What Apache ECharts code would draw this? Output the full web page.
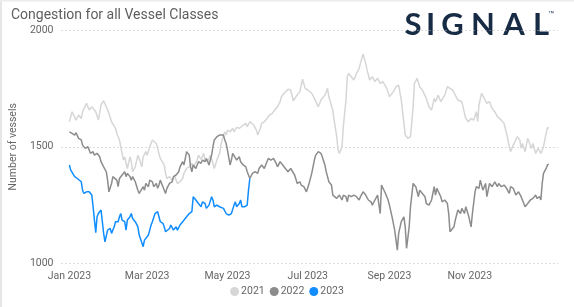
<!DOCTYPE html>
<html>
<head>
<meta charset="utf-8">
<script src="https://cdn.jsdelivr.net/npm/echarts@6/dist/echarts.min.js"></script>
<style>
html,body{margin:0;padding:0;background:#fff;}
#c{width:574px;height:307px;}
</style>
</head>
<body>
<div id="c"></div>
<script>
// Day-of-year (0 = Jan 1) for each reading, and number of vessels
const days2021 = [0,2,5,7,9,10,13,15,17,20,22,24,26,28,30,32,35,36,37,38,40,41,42,44,46,47,48,50,52,53,55,56,58,59,61,63,64,66,67,69,72,73,74,76,78,80,82,84,86,87,89,91,93,94,97,98,100,102,103,104,105,107,109,110,111,112,114,115,117,118,119,120,122,124,125,127,129,130,132,134,135,137,138,140,142,143,145,146,148,150,152,154,156,158,160,161,163,
166,168,170,172,175,177,179,181,184,186,189,191,194,196,197,200,201,203,204,205,207,208,210,211,212,214,216,218,220,221,223,225,226,228,230,232,234,236,238,241,243,246,248,250,252,254,255,257,259,261,262,264,266,268,271,273,275,277,278,280,282,285,287,289,291,293,295,298,300,301,303,305,307,309,310,311,313,315,317,319,321,323,325,326,328,330,332,334,335,337,339,340,342,343,344,346,348,349,351,352,354,356,358,360,361,362,363,364];
const vessels2021 = [1607,1650,1614,1636,1621,1650,1686,1657,1671,1650,1614,1679,1697,1671,1643,1607,1579,1557,1543,1529,1472,1443,1457,1407,1457,1436,1393,1414,1464,1450,1414,1457,1479,1464,1500,1529,1536,1514,1493,1450,1422,1386,1364,1372,1357,1372,1343,1350,1364,1386,1407,1414,1429,1414,1443,1464,1446,1472,1436,1450,1436,1464,1429,1407,1414,1443,1472,1507,1550,1564,1550,1571,1564,1579,1564,1583,1579,1571,1593,1600,1586,1607,1614,1593,1571,1550,1579,1600,1607,1621,1636,1643,1657,1671,1693,1714,1729,
1746,1743,1697,1714,1736,1789,1750,1743,1729,1707,1671,1700,1721,1750,1714,1657,1614,1543,1486,1471,1500,1586,1700,1800,1814,1800,1786,1814,1836,1857,1897,1857,1829,1786,1800,1779,1793,1771,1779,1750,1714,1736,1757,1764,1700,1600,1550,1536,1543,1671,1771,1793,1757,1743,1707,1671,1657,1707,1693,1721,1693,1721,1757,1750,1743,1721,1700,1693,1643,1621,1607,1621,1614,1650,1607,1679,1729,1707,1686,1693,1664,1650,1629,1636,1614,1600,1557,1500,1479,1507,1529,1543,1529,1493,1514,1479,1536,1521,1493,1514,1471,1493,1471,1500,1529,1557,1583,1579];

const days2022 = [0,2,4,5,7,9,10,12,14,15,16,18,19,21,23,24,26,28,29,30,32,33,34,36,37,38,40,42,43,44,46,47,48,50,52,53,54,56,57,58,60,61,63,64,66,67,68,69,71,73,74,76,78,79,81,83,84,86,87,88,89,91,92,93,94,96,97,98,100,101,103,104,106,108,109,110,112,114,115,117,118,119,120,122,123,124,125,127,129,130,132,134,135,137,138,139,141,143,144,146,148,149,151,153,155,157,158,160,162,
164,166,168,169,171,173,175,176,178,180,181,182,184,186,187,189,191,192,194,195,196,197,199,200,201,203,205,207,208,210,211,212,214,216,218,220,221,223,225,227,229,230,232,234,236,237,238,240,242,243,245,247,248,249,250,252,254,255,256,258,259,261,263,265,266,268,270,271,273,275,277,278,279,280,282,283,285,287,288,289,290,292,293,295,297,298,300,301,303,305,306,308,309,311,312,314,316,317,319,321,323,325,326,328,330,332,334,335,337,339,341,343,344,346,348,350,352,354,355,357,358,359,360,362,363,364];
const vessels2022 = [1564,1557,1550,1560,1536,1529,1507,1493,1500,1507,1472,1479,1464,1472,1457,1436,1414,1393,1357,1307,1343,1372,1379,1357,1329,1364,1379,1393,1372,1386,1372,1357,1372,1350,1314,1300,1307,1329,1314,1343,1329,1357,1350,1329,1343,1322,1336,1357,1329,1300,1322,1343,1350,1372,1379,1393,1414,1436,1422,1450,1479,1464,1414,1393,1422,1407,1422,1436,1429,1443,1436,1450,1422,1464,1500,1529,1543,1550,1543,1550,1529,1514,1486,1422,1443,1472,1464,1443,1457,1436,1422,1414,1393,1364,1372,1386,1393,1386,1407,1422,1407,1422,1450,1443,1450,1429,1414,1436,1422,
1407,1393,1407,1407,1379,1343,1350,1336,1329,1307,1300,1343,1386,1443,1464,1479,1472,1457,1422,1393,1372,1350,1336,1293,1286,1279,1293,1272,1293,1286,1264,1293,1286,1293,1286,1272,1286,1307,1293,1272,1264,1250,1272,1293,1214,1336,1329,1300,1272,1250,1200,1143,1100,1057,1129,1179,1200,1157,1065,1157,1243,1343,1329,1286,1314,1300,1286,1257,1250,1272,1329,1293,1322,1329,1286,1264,1272,1257,1214,1136,1129,1157,1186,1229,1214,1236,1214,1243,1207,1157,1214,1307,1329,1322,1357,1314,1343,1286,1343,1329,1350,1329,1343,1329,1336,1322,1300,1329,1322,1293,1307,1286,1272,1243,1257,1272,1279,1293,1279,1286,1272,1343,1386,1407,1422,1426];

const days2023 = [0,1,2,4,5,6,7,9,10,11,13,14,15,17,18,19,20,21,22,24,25,26,27,29,30,31,32,34,35,37,38,39,40,42,43,44,46,47,48,50,52,53,54,56,57,58,60,61,62,63,65,67,68,69,71,72,73,74,76,77,79,81,82,84,86,87,89,91,93,94,96,97,98,100,101,103,104,106,108,109,110,112,114,115,117,119,121,123,125,126,127,129,130,131,133,134,135,136,137];
const vessels2023 = [1422,1400,1393,1372,1379,1364,1372,1350,1314,1300,1307,1300,1307,1293,1243,1186,1132,1200,1214,1229,1179,1129,1093,1143,1136,1150,1129,1157,1179,1179,1200,1214,1186,1179,1143,1186,1200,1214,1193,1179,1157,1122,1114,1072,1100,1107,1122,1143,1165,1179,1214,1222,1200,1179,1172,1157,1136,1129,1150,1165,1143,1157,1143,1165,1179,1186,1200,1214,1222,1286,1272,1279,1257,1243,1264,1257,1236,1250,1286,1272,1243,1250,1243,1250,1236,1214,1207,1214,1250,1264,1243,1257,1272,1243,1243,1250,1250,1314,1364];

const seriesNames = ['2021','2022','2023'];
const seriesColors = ['#d6d6d6','#8c8c8c','#118DFF'];
const tickDays = [0,59,120,181,243,304];
const tickLabels = ['Jan 2023','Mar 2023','May 2023','Jul 2023','Sep 2023','Nov 2023'];

const toPairs = (d, v) => d.map((x, i) => [x, v[i]]);
const allData = [toPairs(days2021, vessels2021), toPairs(days2022, vessels2022), toPairs(days2023, vessels2023)];

const chart = echarts.init(document.getElementById('c'), null, {renderer:'canvas'});
const font = 'Roboto, "Open Sans", sans-serif';
const logoLetters = ['S','I','G','N','A','L'];
const logoX = [413, 430.5, 452.5, 483, 514, 541];

chart.setOption({
  animation: false,
  backgroundColor: '#fff',
  textStyle: {fontFamily: font},
  title: {
    text: 'Congestion for all Vessel Classes',
    left: 6, top: 3,
    textStyle: {fontSize: 14, fontWeight: 'normal', color: '#5f5f5f', fontFamily: font}
  },
  graphic: [
    {type:'line', shape:{x1:0.5,y1:0,x2:0.5,y2:307}, style:{stroke:'#e6e6e6', lineWidth:3}},
    {type:'line', shape:{x1:0,y1:0.5,x2:574,y2:0.5}, style:{stroke:'#ececec', lineWidth:2}},
    ...logoLetters.map((ch, i) => ({
      type: 'text', x: logoX[i], y: 25,
      style: {text: ch, fill: '#172b45', font: 'bold 31px Lato, "Open Sans", sans-serif', textAlign: 'center', textVerticalAlign: 'middle'}
    })),
    {type:'text', x: 551, y: 13, style:{text:'™', fill:'#172b45', font:'6px sans-serif', textAlign:'center', textVerticalAlign:'middle'}}
  ],
  legend: {
    data: seriesNames,
    bottom: 5, left: 'center',
    icon: 'circle', itemWidth: 9, itemHeight: 9, itemGap: 5,
    textStyle: {fontSize: 10.5, color: '#666', padding: [0,0,0,-3], fontFamily: font}
  },
  grid: {left: 52, right: 16, top: 30, bottom: 43.5, containLabel: false},
  xAxis: {
    type: 'value', min: -6, max: 371,
    axisLine: {show: false}, axisTick: {show: false}, splitLine: {show: false},
    axisLabel: {
      customValues: tickDays,
      formatter: (v) => tickLabels[tickDays.indexOf(v)] || '',
      fontSize: 10.5, color: '#666', margin: 7, fontFamily: font
    }
  },
  yAxis: {
    type: 'value', min: 1000, max: 2000, interval: 500,
    name: 'Number of vessels', nameLocation: 'middle', nameGap: 38,
    nameTextStyle: {fontSize: 10.5, color: '#666', fontFamily: font},
    axisLine: {show: false}, axisTick: {show: false},
    axisLabel: {fontSize: 10.5, color: '#666', margin: 8, fontFamily: font, formatter: (v) => String(v)},
    splitLine: {lineStyle: {type: [1, 3], color: '#bbbbbb', width: 1}}
  },
  series: seriesNames.map((name, i) => ({
    name, type: 'line', data: allData[i], showSymbol: false, symbol: 'circle',
    color: seriesColors[i],
    lineStyle: {width: 1.5, color: seriesColors[i]},
    z: 2 + i
  }))
});
</script>
</body>
</html>
